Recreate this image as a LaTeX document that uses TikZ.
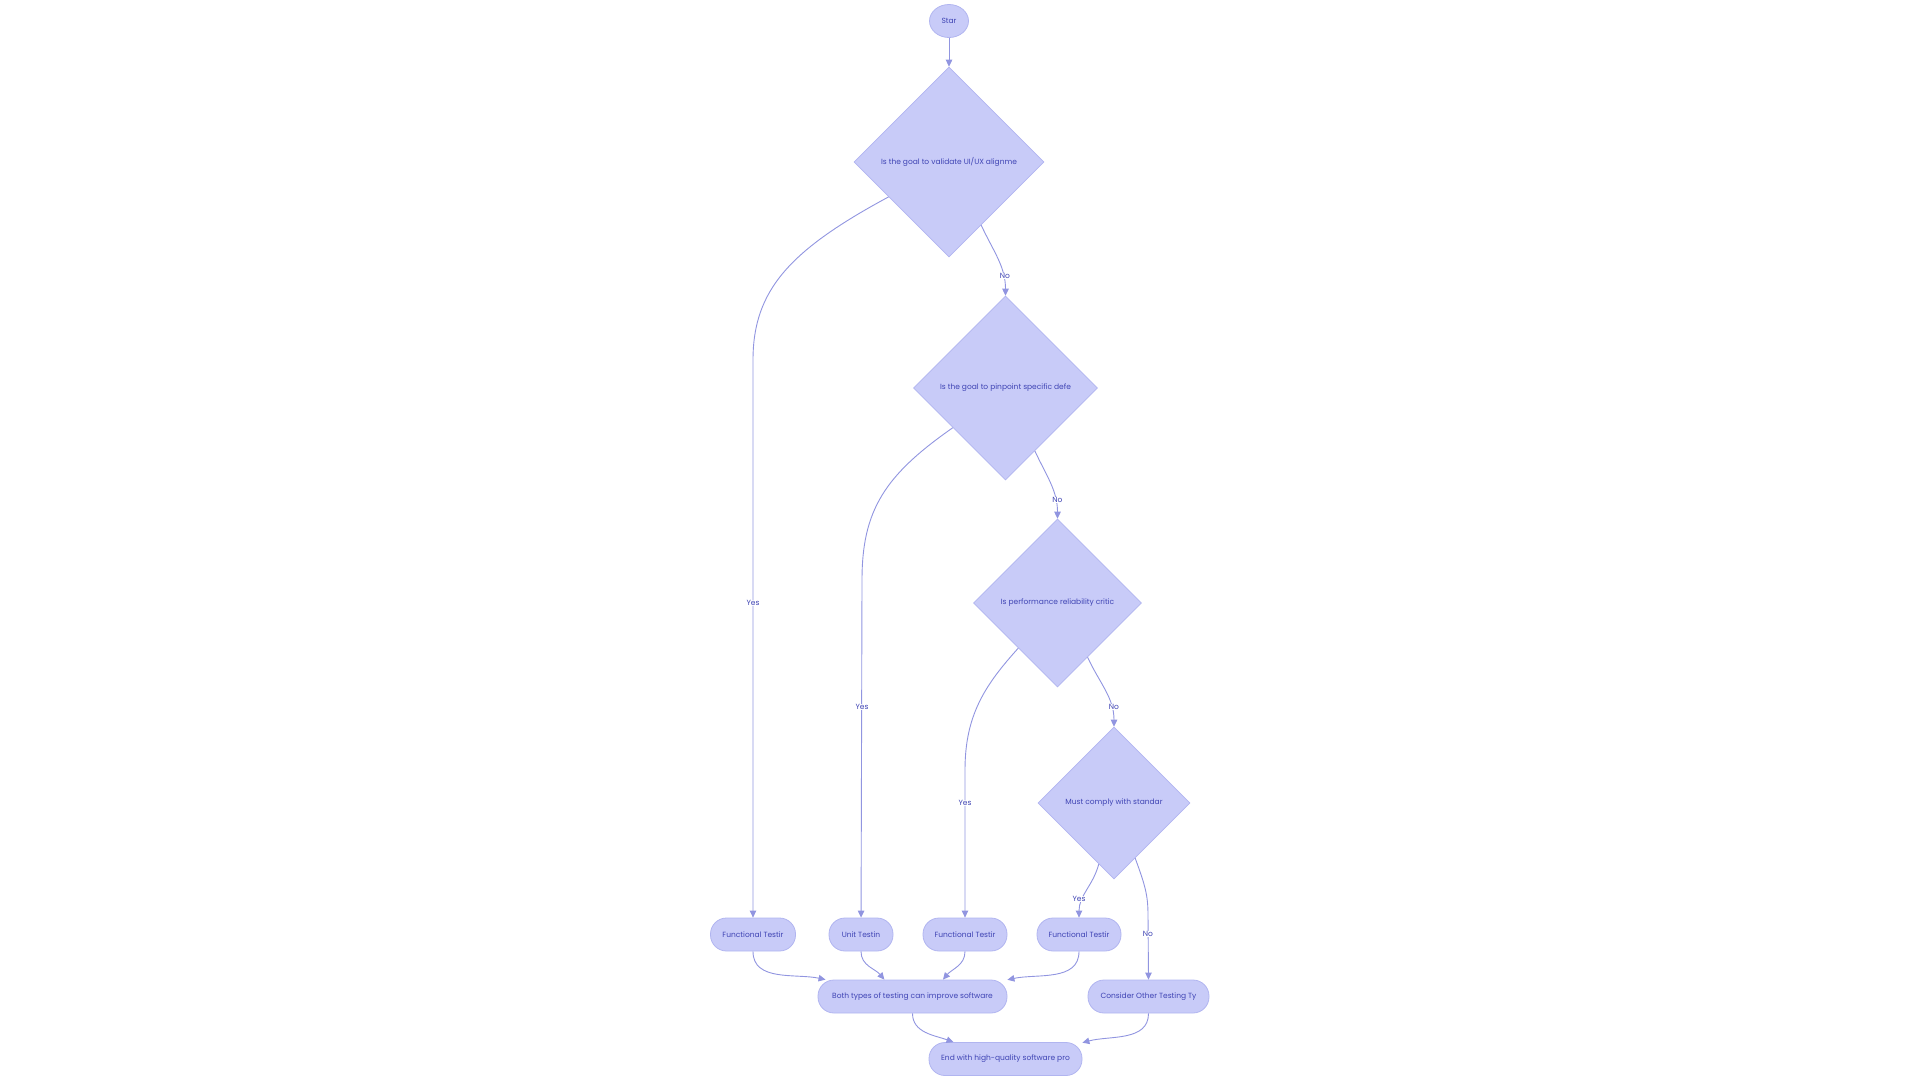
\documentclass[tikz,border=0pt]{standalone}
\usepackage{fontspec}
\setmainfont{Poppins}
\usetikzlibrary{shapes.geometric,arrows.meta}
\definecolor{nodefill}{HTML}{C8CBF8}
\definecolor{nodeline}{HTML}{B1B5F0}
\definecolor{edgeline}{HTML}{9195E0}
\definecolor{labeltext}{HTML}{3F44B4}

\begin{document}
\begin{tikzpicture} [x=1pt, y=-1pt, >={Triangle[length=7pt,width=6.5pt]},
		box/.style={rectangle, rounded corners=16pt, fill=nodefill, draw=nodeline, line width=0.8pt, minimum height=33pt, inner sep=0pt, text=labeltext, font=\fontsize{7.5}{9}\selectfont},
		choice/.style={diamond, aspect=1, fill=nodefill, draw=nodeline, line width=0.6pt, inner sep=0pt, text=labeltext, font=\fontsize{7.5}{9}\selectfont},
		link/.style={->, draw=edgeline, line width=0.9pt},
		answer/.style={fill=white, text=labeltext, inner sep=0.8pt, font=\fontsize{7.5}{9}\selectfont}]
		\useasboundingbox (0,0) rectangle (1920,1080);

		\node [ellipse, fill=nodefill, draw=nodeline, line width=0.8pt, minimum width=39pt, minimum height=33pt, inner sep=0pt, text=labeltext, font=\fontsize{7.5}{9}\selectfont] (start) at (949,21) {Star};

		\node [choice, minimum size=190pt] (uiux) at (949,162) {Is the goal to validate UI/UX alignme};
		\node [choice, minimum size=184pt] (defect) at (1005.5,388) {Is the goal to pinpoint specific defe};
		\node [choice, minimum size=168pt] (perf) at (1057.5,603) {Is performance reliability critic};
		\node [choice, minimum size=152pt] (comply) at (1114,803) {Must comply with standar};

		\node [box, minimum width=85pt] (funcA) at (753,934.5) {Functional Testir};
		\node [box, minimum width=64pt] (unit) at (861,934.5) {Unit Testin};
		\node [box, minimum width=84pt] (funcB) at (965,934.5) {Functional Testir};
		\node [box, minimum width=84pt] (funcC) at (1079,934.5) {Functional Testir};
		\node [box, minimum width=189pt] (both) at (912.5,996.5) {Both types of testing can improve software};
		\node [box, minimum width=121pt] (other) at (1148.5,996.5) {Consider Other Testing Ty};
		\node [box, minimum width=153pt] (finish) at (1005.5,1059) {End with high-quality software pro};

		\draw [link] (start) -- (uiux);

		\draw [link] (uiux.210) .. controls (790,250) and (753,290) .. (753,360) -- (funcA);
		\draw [link] (uiux.297) to[out=-65,in=90] (defect.north);
		\draw [link] (defect.217) .. controls (885,475) and (862,510) .. (862,580) -- (unit);
		\draw [link] (defect.295) to[out=-65,in=90] (perf.north);
		\draw [link] (perf.229) .. controls (985,685) and (965,715) .. (965,770) -- (funcB);
		\draw [link] (perf.299) to[out=-65,in=90] (comply.north);
		\draw [link] (comply.256) to[out=-105,in=90] (funcC.north);
		\draw [link] (comply.291) .. controls (1145,885) and (1148,895) .. (1148,915) -- (other.north);

		\draw [link] (funcA.south) to[out=-90,in=168] (both.169);
		\draw [link] (unit.south) to[out=-90,in=130] (both.149);
		\draw [link] (funcB.south) to[out=-90,in=50] (both.29);
		\draw [link] (funcC.south) to[out=-90,in=12] (both.10);
		\draw [link] (both.south) to[out=-90,in=160] (finish.162);
		\draw [link] (other.south) to[out=-90,in=15] (finish.12);

		\node [answer] (yesA) at (753,603) {Yes};
		\node [answer] (noA) at (1005,276) {No};
		\node [answer] (yesB) at (862,707) {Yes};
		\node [answer] (noB) at (1057.5,500) {No};
		\node [answer] (yesC) at (965,803) {Yes};
		\node [answer] (noC) at (1114,707) {No};
		\node [answer] (yesD) at (1079,899) {Yes};
		\node [answer] (noD) at (1148,934) {No};

\end{tikzpicture}
\end{document}
